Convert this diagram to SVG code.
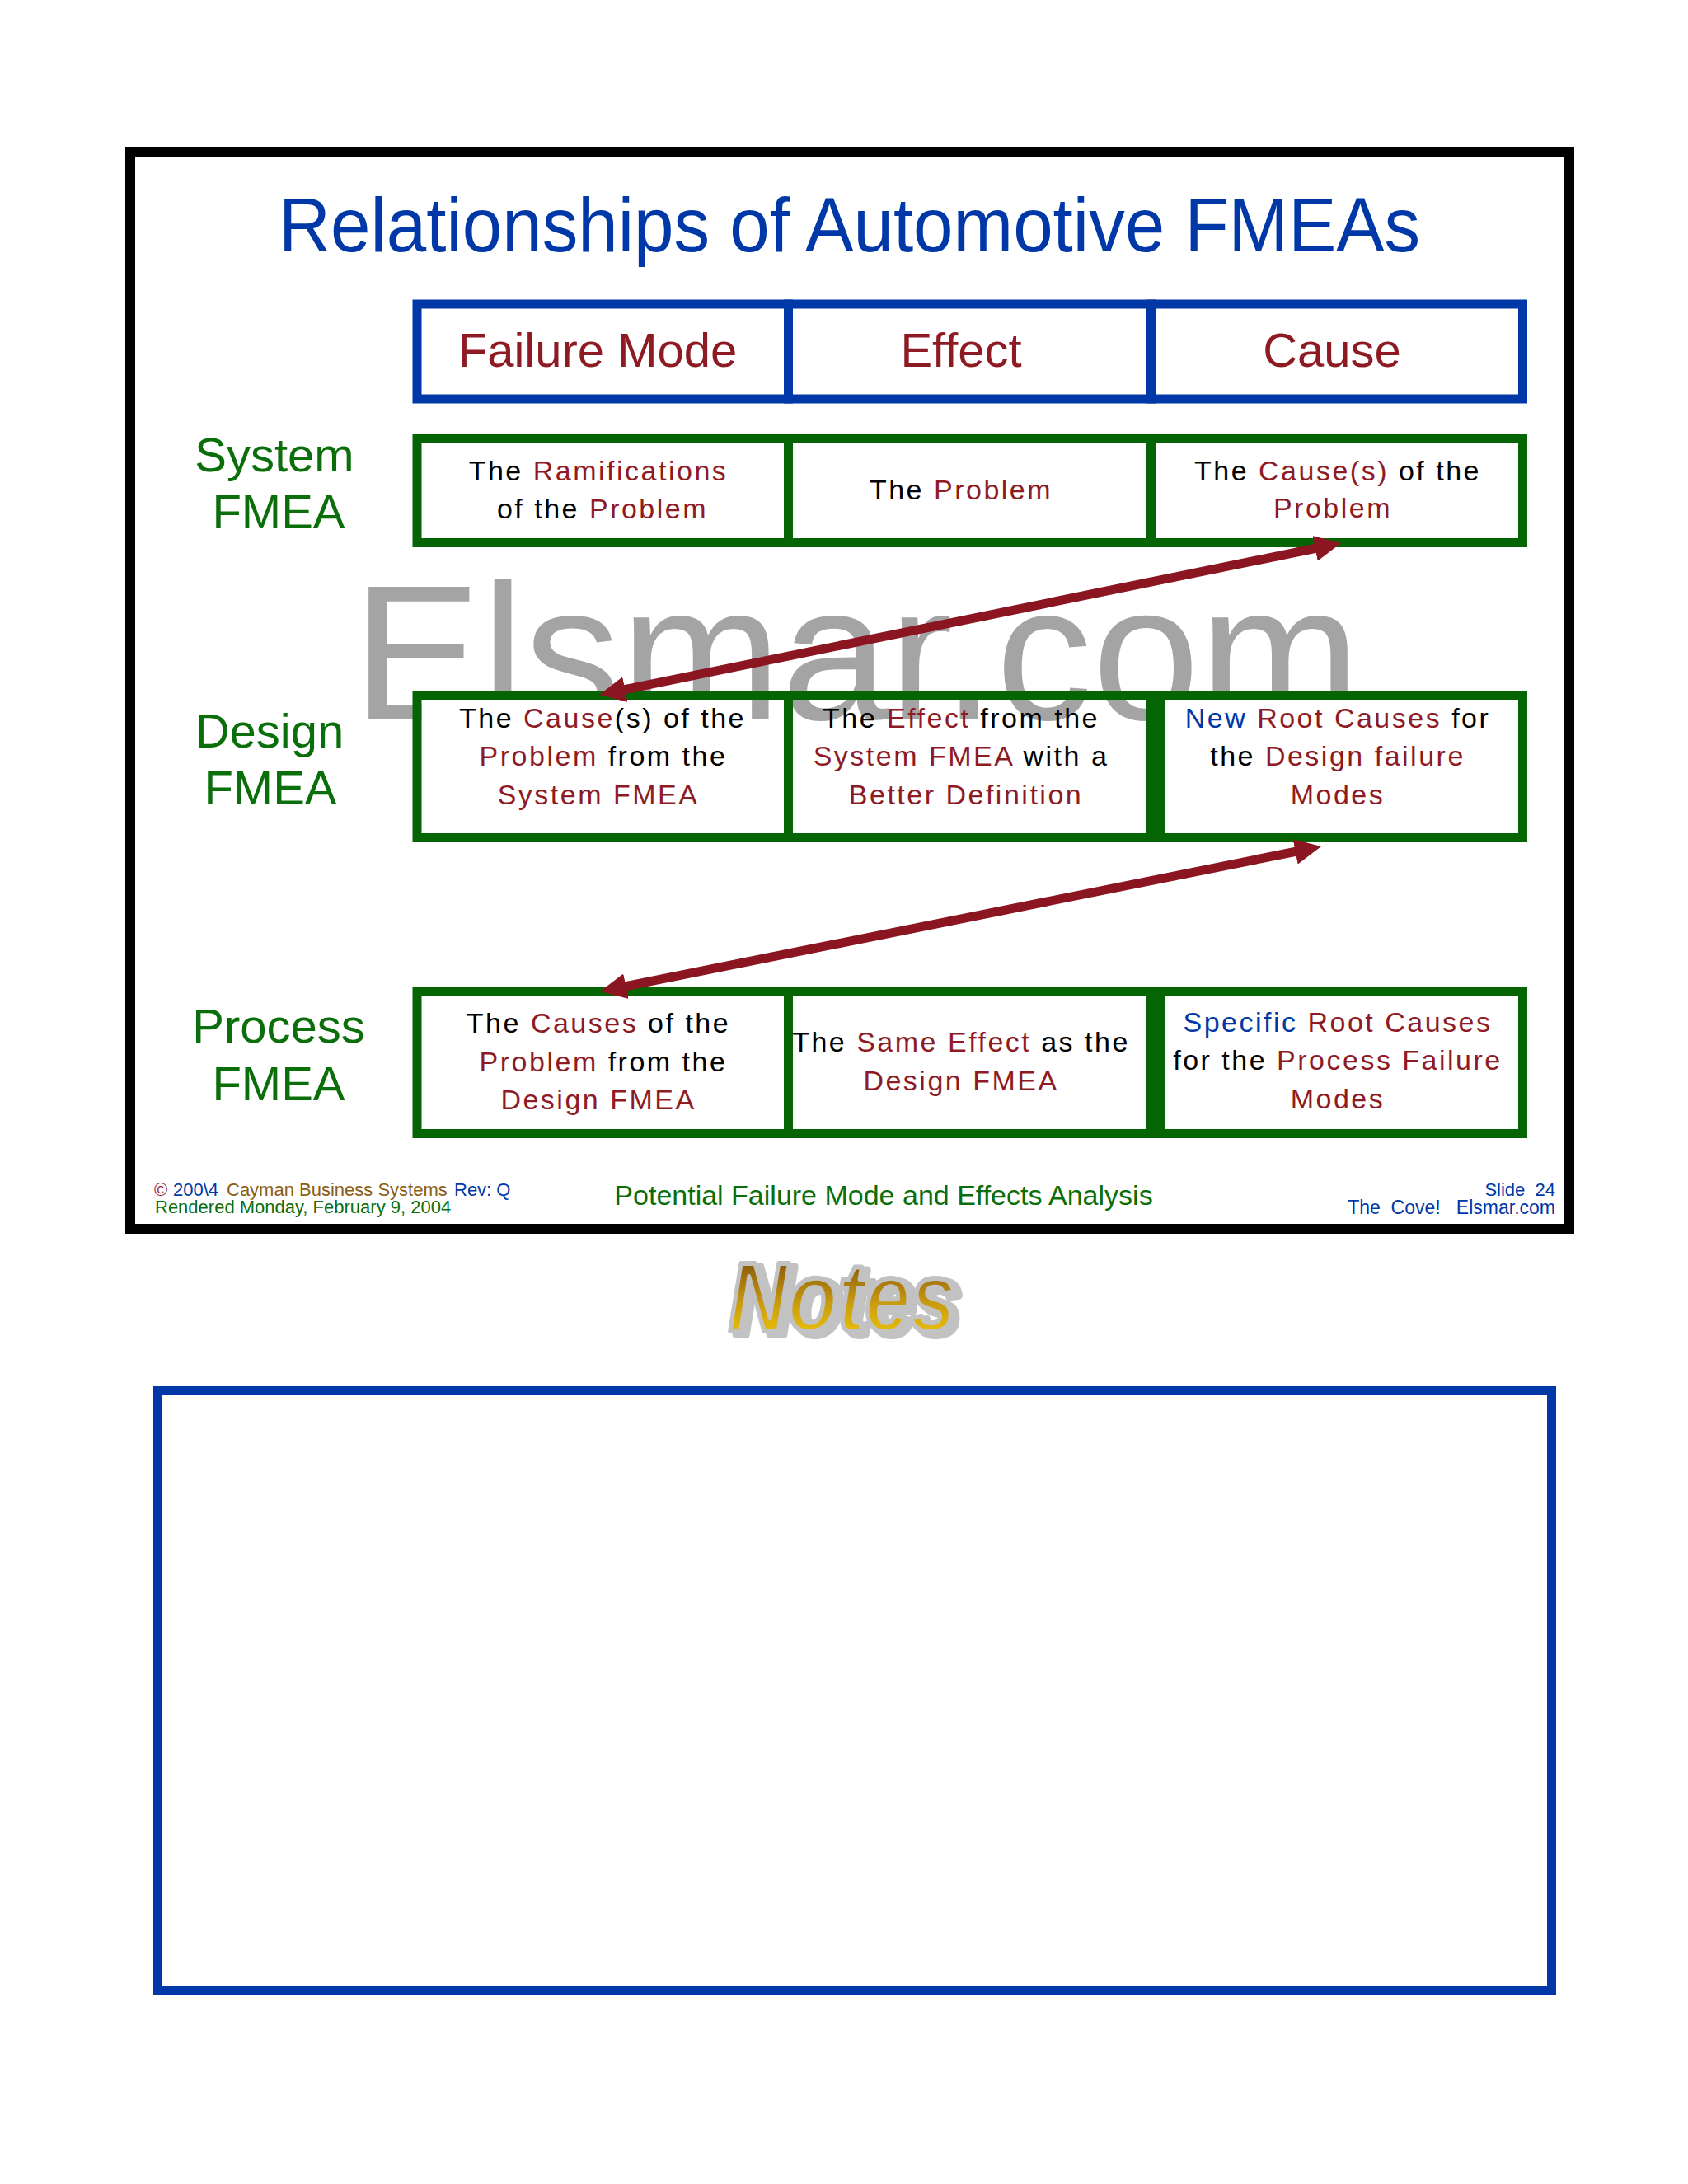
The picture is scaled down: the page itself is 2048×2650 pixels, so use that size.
<svg xmlns="http://www.w3.org/2000/svg" width="2048" height="2650" viewBox="0 0 2048 2650">
<style>
text { font-family: "Liberation Sans", Arial, sans-serif; }
.frame { fill: none; stroke: #000; stroke-width: 12; }
.hdr { fill: none; stroke: #0038A8; stroke-width: 11; stroke-linejoin: miter; }
.cell { fill: none; stroke: #056505; stroke-width: 11; stroke-linejoin: miter; }
.filled { fill: #FFFFFF; }
.title { font-size: 92px; fill: #0038A8; }
.ht { font-size: 58px; fill: #8E1B24; text-anchor: middle; }
.lbl { font-size: 58px; fill: #0A6E0A; text-anchor: middle; }
.ct { font-size: 34px; letter-spacing: 2.5px; text-anchor: middle; fill: #000; }
.r { fill: #8E1B24; }
.b { fill: #0038A8; }
.k { fill: #000; }
.wm { font-size: 234px; fill: #A4A4A4; }
.arrow { fill: none; stroke: #8B1520; stroke-width: 11; }
.foot { font-size: 22px; }
.ftitle { font-size: 34px; fill: #0A6E0A; text-anchor: middle; }
.notes { font-size: 118px; font-weight: bold; font-style: italic; }
.nbox { fill: none; stroke: #0038A8; stroke-width: 11; }
</style>
<defs>
<marker id="ah" markerUnits="userSpaceOnUse" markerWidth="32" markerHeight="31" refX="12" refY="15.5" orient="auto-start-reverse" viewBox="0 0 32 31">
<path d="M0,0 L32,15.5 L0,31 Z" fill="#8B1520"/>
</marker>
<linearGradient id="gold" x1="0" y1="0" x2="0" y2="1">
<stop offset="0" stop-color="#6B3A05"/>
<stop offset="0.55" stop-color="#C89A10"/>
<stop offset="1" stop-color="#FFD400"/>
</linearGradient>
</defs>
<rect x="0" y="0" width="2048" height="2650" fill="#FFFFFF"/>
<g id="slide-frame">
<rect class="frame" x="158" y="184" width="1746" height="1307"/>
</g>
<g id="title">
<text class="title" x="338" y="305" textLength="1385" lengthAdjust="spacingAndGlyphs">Relationships of Automotive FMEAs</text>
</g>
<g id="watermark">
<text class="wm" x="428" y="873">Elsmar.com</text>
</g>
<g id="header-failure-mode">
<rect class="hdr" x="506" y="369" width="450.5" height="115"/>
<text class="ht" x="725" y="445">Failure Mode</text>
</g>
<g id="header-effect">
<rect class="hdr" x="956.5" y="369" width="440" height="115"/>
<text class="ht" x="1166" y="445">Effect</text>
</g>
<g id="header-cause">
<rect class="hdr" x="1396.5" y="369" width="451" height="115"/>
<text class="ht" x="1616" y="445">Cause</text>
</g>
<g id="label-system">
<text class="lbl" x="333" y="572">System</text>
<text class="lbl" x="338" y="641">FMEA</text>
</g>
<g id="label-design">
<text class="lbl" x="327" y="907">Design</text>
<text class="lbl" x="328" y="976">FMEA</text>
</g>
<g id="label-process">
<text class="lbl" x="338" y="1265">Process</text>
<text class="lbl" x="338" y="1335">FMEA</text>
</g>
<g id="system-failure-mode">
<rect class="cell" x="506" y="531.5" width="450.5" height="127"/>
<text class="ct" x="726" y="583"><tspan class="k">The </tspan><tspan class="r">Ramifications</tspan></text>
<text class="ct" x="731" y="629"><tspan class="k">of the </tspan><tspan class="r">Problem</tspan></text>
</g>
<g id="system-effect">
<rect class="cell" x="956.5" y="531.5" width="440" height="127"/>
<text class="ct" x="1166" y="606"><tspan class="k">The </tspan><tspan class="r">Problem</tspan></text>
</g>
<g id="system-cause">
<rect class="cell" x="1396.5" y="531.5" width="451" height="127"/>
<text class="ct" x="1623" y="583"><tspan class="k">The </tspan><tspan class="r">Cause(s)</tspan><tspan class="k"> of the</tspan></text>
<text class="ct" x="1617" y="628"><tspan class="r">Problem</tspan></text>
</g>
<g id="design-failure-mode">
<rect class="filled" x="511.5" y="849" width="393" height="162"/>
<rect class="cell" x="506" y="843.5" width="450.5" height="173"/>
<text class="ct" x="731" y="883"><tspan class="k">The </tspan><tspan class="r">Cause</tspan><tspan class="k">(s) of the</tspan></text>
<text class="ct" x="732" y="929"><tspan class="r">Problem</tspan><tspan class="k"> from the</tspan></text>
<text class="ct" x="726" y="976"><tspan class="r">System FMEA</tspan></text>
</g>
<g id="design-effect">
<rect class="cell" x="956.5" y="843.5" width="440" height="173"/>
<text class="ct" x="1166" y="883"><tspan class="k">The </tspan><tspan class="r">Effect</tspan><tspan class="k"> from the</tspan></text>
<text class="ct" x="1166" y="929"><tspan class="r">System FMEA</tspan><tspan class="k"> with a</tspan></text>
<text class="ct" x="1172" y="976"><tspan class="r">Better Definition</tspan></text>
</g>
<g id="design-cause">
<rect class="cell filled" x="1407.5" y="843.5" width="440" height="173" style="fill:#FFFFFF"/>
<text class="ct" x="1623" y="883"><tspan class="b">New </tspan><tspan class="r">Root Causes</tspan><tspan class="k"> for</tspan></text>
<text class="ct" x="1623" y="929"><tspan class="k">the </tspan><tspan class="r">Design failure</tspan></text>
<text class="ct" x="1623" y="976"><tspan class="r">Modes</tspan></text>
</g>
<g id="process-failure-mode">
<rect class="cell" x="506" y="1202.5" width="450.5" height="173"/>
<text class="ct" x="726" y="1253"><tspan class="k">The </tspan><tspan class="r">Causes</tspan><tspan class="k"> of the</tspan></text>
<text class="ct" x="732" y="1300"><tspan class="r">Problem</tspan><tspan class="k"> from the</tspan></text>
<text class="ct" x="726" y="1346"><tspan class="r">Design FMEA</tspan></text>
</g>
<g id="process-effect">
<rect class="cell" x="956.5" y="1202.5" width="440" height="173"/>
<text class="ct" x="1166" y="1276"><tspan class="k">The </tspan><tspan class="r">Same Effect</tspan><tspan class="k"> as the</tspan></text>
<text class="ct" x="1166" y="1323"><tspan class="r">Design FMEA</tspan></text>
</g>
<g id="process-cause">
<rect class="cell" x="1407.5" y="1202.5" width="440" height="173"/>
<text class="ct" x="1623" y="1252"><tspan class="b">Specific </tspan><tspan class="r">Root Causes</tspan></text>
<text class="ct" x="1623" y="1298"><tspan class="k">for the </tspan><tspan class="r">Process Failure</tspan></text>
<text class="ct" x="1623" y="1345"><tspan class="r">Modes</tspan></text>
</g>
<g id="connectors">
<path class="arrow" d="M746.6,839 L1607.4,663" marker-start="url(#ah)" marker-end="url(#ah)"/>
<path class="arrow" d="M747.6,1199 L1583.4,1031" marker-start="url(#ah)" marker-end="url(#ah)"/>
</g>
<g id="footer">
<text class="foot" y="1451"><tspan x="187" fill="#9B1B30">©</tspan><tspan x="210" fill="#0038A8">200\4</tspan><tspan x="275" fill="#8B5E14">Cayman Business Systems</tspan><tspan x="551" fill="#0038A8">Rev: Q</tspan></text>
<text class="foot" x="188" y="1472" fill="#0A6E0A">Rendered Monday, February 9, 2004</text>
<text class="ftitle" x="1072" y="1462">Potential Failure Mode and Effects Analysis</text>
<text class="foot" x="1887" y="1451" fill="#0038A8" text-anchor="end" style="white-space:pre">Slide  24</text>
<text class="foot" x="1887" y="1473" fill="#0038A8" text-anchor="end" style="white-space:pre;font-size:23px">The  Cove!   Elsmar.com</text>
</g>
<g id="notes-title">
<text class="notes" x="891" y="1619" textLength="276" lengthAdjust="spacingAndGlyphs" fill="#C2C2C2" stroke="#C2C2C2" stroke-width="10" stroke-linejoin="round">Notes</text>
<text class="notes" x="884" y="1615" textLength="276" lengthAdjust="spacingAndGlyphs" fill="url(#gold)" stroke="#C2C2C2" stroke-width="6" stroke-linejoin="round">Notes</text>
</g>
<g id="notes-box">
<rect class="nbox" x="191.5" y="1687.5" width="1691" height="728"/>
</g>
</svg>
